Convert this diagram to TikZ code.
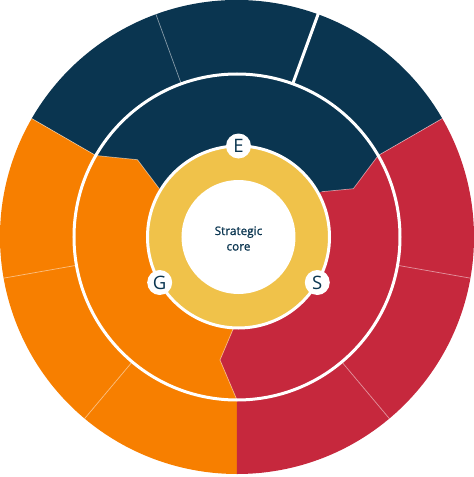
\documentclass[tikz,border=0pt]{standalone}
\usepackage{fontspec}
\setmainfont{Open Sans}
\newfontfamily\semifont[FakeBold=0.7]{Open Sans}
\definecolor{navy}{HTML}{0A3550}
\definecolor{esgorange}{HTML}{F77F00}
\definecolor{esgred}{HTML}{C6283D}
\definecolor{esgyellow}{HTML}{F0C24A}
\begin{document}
\begin{tikzpicture}[x=1pt,y=1pt,
  thinsep/.style={draw=white, draw opacity=0.5, line width=0.7pt},
  thicksep/.style={draw=white, line width=3pt},
  letterdot/.style={circle, fill=white, minimum size=25pt, inner sep=0pt, text=navy, font=\fontsize{18.5}{18}\selectfont},
  coretext/.style={text=navy, align=center, font=\semifont\fontsize{11.8}{15.5}\selectfont}
]
\useasboundingbox (-237,-240) rectangle (237,237);
% outer sectors
\fill[navy] (0,0) -- (30:237) arc[start angle=30,end angle=150,radius=237] -- cycle;
\fill[esgorange] (0,0) -- (150:237) arc[start angle=150,end angle=270,radius=237] -- cycle;
\fill[esgred] (0,0) -- (270:237) arc[start angle=270,end angle=390,radius=237] -- cycle;
% inner boundary points
\coordinate (pB) at (-99.5,77.3);
\coordinate (pC) at (-78,48.7);
\coordinate (pE) at (116.3,48.3);
\coordinate (pF) at (84.7,45.3);
\coordinate (pG) at (-3,-90);
\coordinate (pH) at (-17,-123);
\begin{scope}
\clip (0,0) circle (163);
\fill[navy] (0,0) -- (pC) -- (pB) -- (150:163) -- (150:180) arc[start angle=150,end angle=30,radius=180] -- (30:163) -- (pE) -- (pF) -- cycle;
\fill[esgred] (0,0) -- (pF) -- (pE) -- (30:163) -- (30:180) arc[start angle=30,end angle=-90,radius=180] -- (0,-163) -- (pH) -- (pG) -- cycle;
\fill[esgorange] (0,0) -- (pG) -- (pH) -- (0,-163) -- (0,-180) arc[start angle=270,end angle=150,radius=180] -- (150:163) -- (pB) -- (pC) -- cycle;
\end{scope}
% separators
\draw[thinsep] (pC) -- (pB) -- (150:163);
\draw[thinsep] (pF) -- (pE) -- (30:163);
\draw[thinsep] (pG) -- (pH) -- (0,-163);
\foreach \a in {30,110,150,190,230,-10,-50} \draw[thinsep] (\a:163) -- (\a:237);
\draw[thicksep] (70:163) -- (70:238);
\draw[white, line width=3pt] (0,0) circle (163);
% core
\coordinate (core) at (1.5,0);
\filldraw[fill=esgyellow, draw=white, line width=3pt] (core) circle (91);
\fill[white] (core) circle (57);
\node[coretext] (sc) at (1.5,-1.5) {Strategic\\core};
\node[letterdot] (lE) at (1.5,91) {E};
\node[letterdot] (lG) at (-77.3,-45.5) {G};
\node[letterdot] (lS) at (80.3,-45.5) {S};
\end{tikzpicture}
\end{document}
